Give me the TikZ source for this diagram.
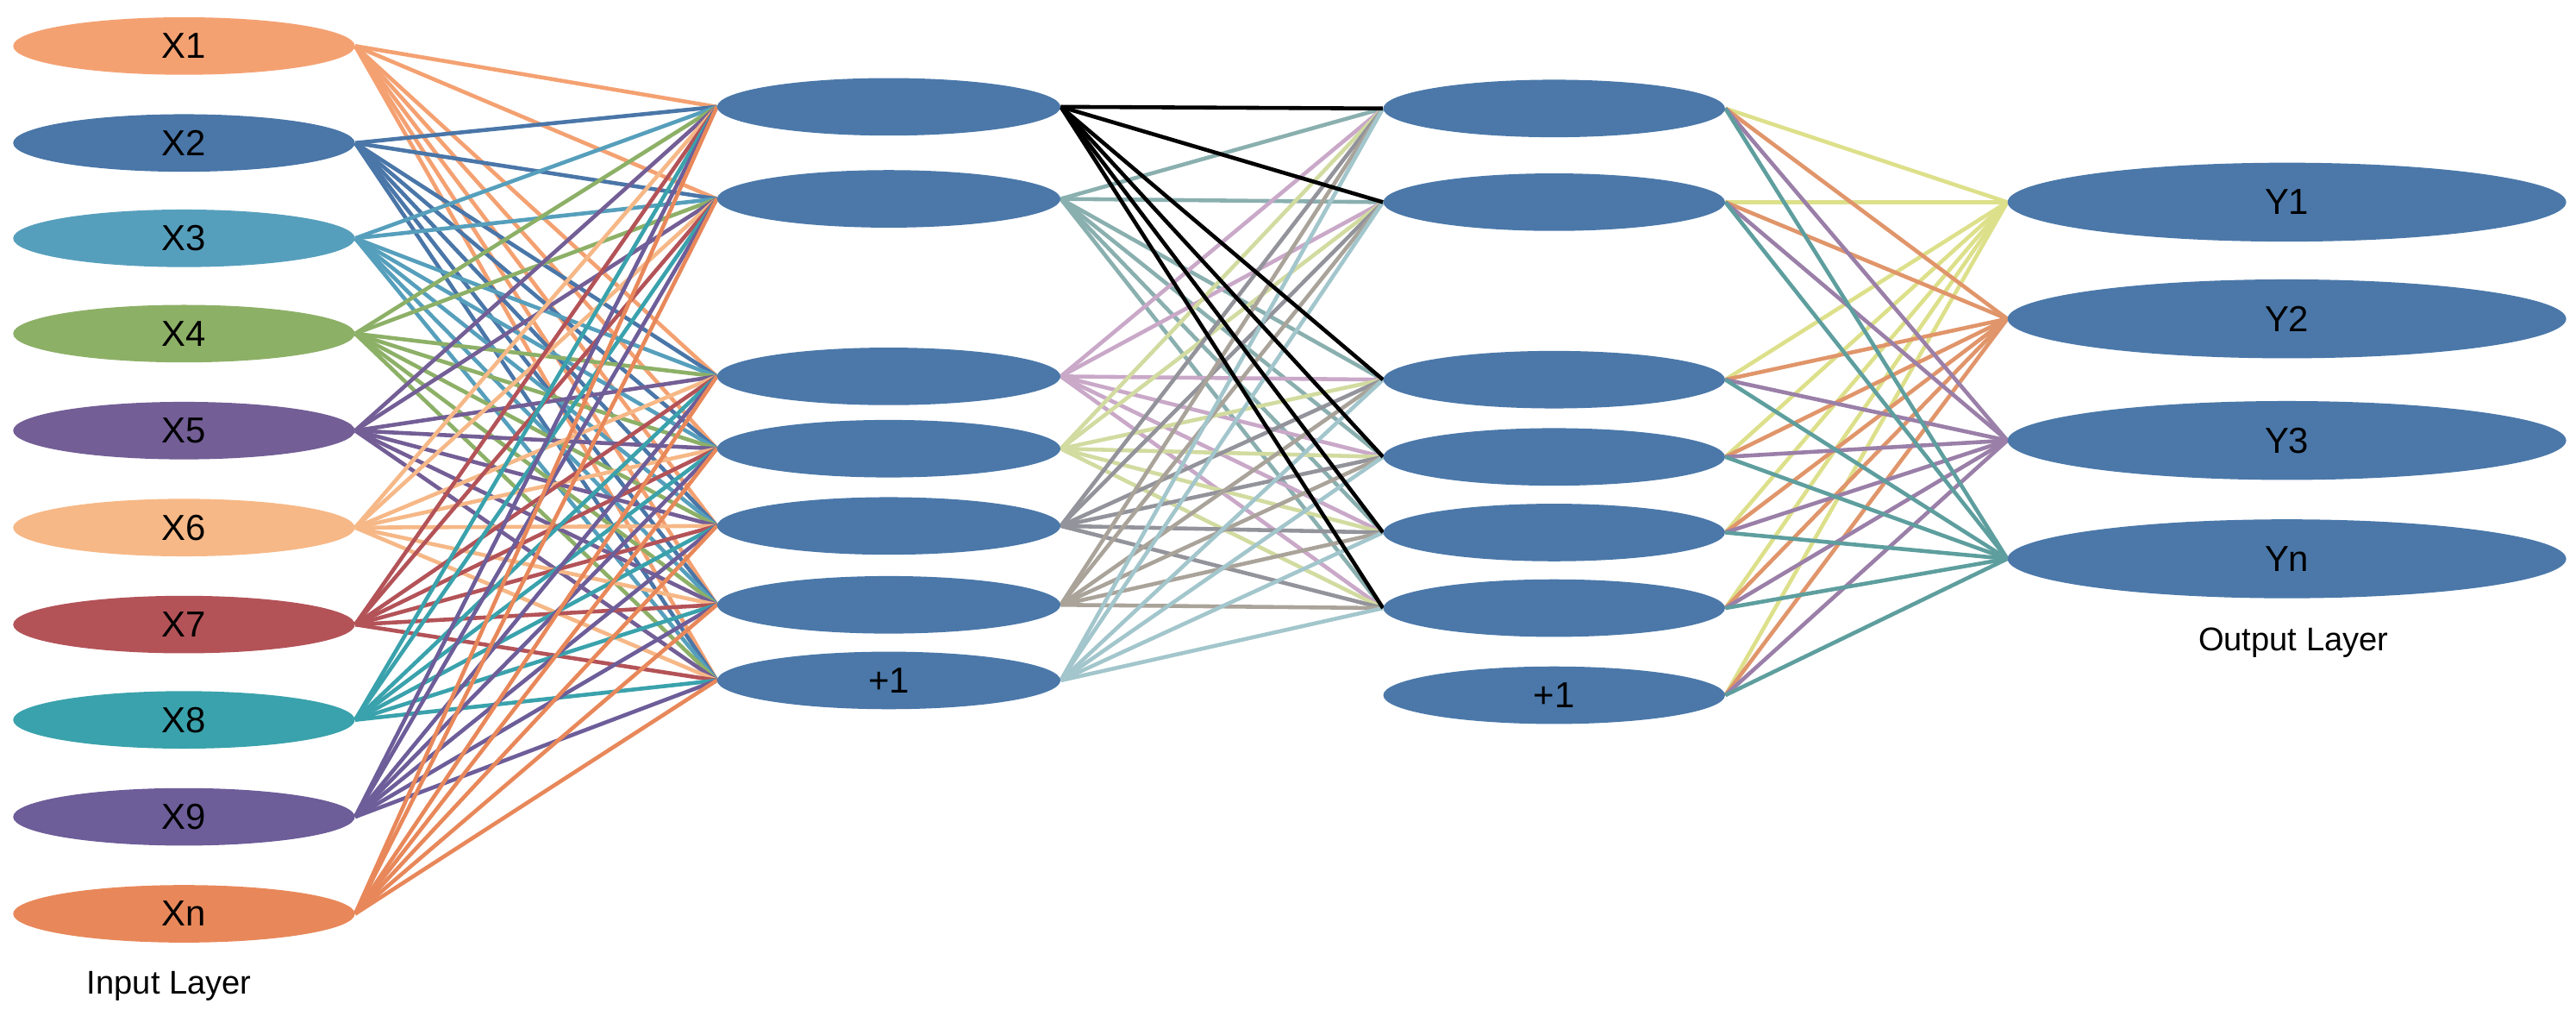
\documentclass[tikz,border=0pt]{standalone}
\usepackage{fontspec}
\setmainfont{Liberation Sans}
\usetikzlibrary{shapes.geometric,backgrounds}
\definecolor{nodeblue}{HTML}{4B78A9}
\definecolor{cA}{HTML}{F4A172}\definecolor{cB}{HTML}{4A76A8}
\definecolor{cC}{HTML}{569FBC}\definecolor{cD}{HTML}{8DB067}
\definecolor{cE}{HTML}{735E96}\definecolor{cF}{HTML}{F6B887}
\definecolor{cG}{HTML}{B35358}\definecolor{cH}{HTML}{3AA2AC}
\definecolor{cI}{HTML}{6D5D99}\definecolor{cJ}{HTML}{E8885A}
\definecolor{hA}{HTML}{000000}\definecolor{hB}{HTML}{8AAFAF}
\definecolor{hC}{HTML}{C9A8C8}\definecolor{hD}{HTML}{D2DBA0}
\definecolor{hE}{HTML}{93939B}\definecolor{hF}{HTML}{A9A39A}
\definecolor{hG}{HTML}{A2C6CC}
\definecolor{oA}{HTML}{DDE08A}\definecolor{oB}{HTML}{E0956A}
\definecolor{oC}{HTML}{9A7FA8}\definecolor{oD}{HTML}{5E9E9E}
\tikzset{
	neuron/.style={ellipse,fill=#1,draw=none,minimum width=208pt,minimum height=35pt,inner sep=0pt,font=\fontsize{22}{22}\selectfont},
	outneuron/.style={ellipse,fill=nodeblue,minimum width=340pt,minimum height=48pt,inner sep=0pt,font=\fontsize{22}{22}\selectfont},
	link/.style={line width=2.4pt,draw=#1}
}
\begin{document}
\begin{tikzpicture}[x=1pt,y=-1pt]
	\useasboundingbox (0,0) rectangle (1568,618);
	% input layer
	\foreach \i/\lab/\col/\y in {1/X1/cA/28,2/X2/cB/87,3/X3/cC/145,4/X4/cD/203,5/X5/cE/262,6/X6/cF/321,7/X7/cG/380,8/X8/cH/438,9/X9/cI/497,10/Xn/cJ/556}
		\node [neuron=\col] (in\i) at (112,\y) {\lab};
	\node [font=\fontsize{20}{20}\selectfont] (inlabel) at (103,600) {Input Layer};
	% hidden layers
	\foreach \i/\lab/\y in {1//65,2//121,3//229,4//273,5//320,6//368,7/+1/414}
		\node [neuron=nodeblue,minimum width=209pt] (ha\i) at (541,\y) {\lab};
	\foreach \i/\lab/\y in {1//66,2//123,3//231,4//278,5//324,6//370,7/+1/423}
		\node [neuron=nodeblue] (hb\i) at (946,\y) {\lab};
	% output layer
	\foreach \i/\lab/\y in {1/Y1/123,2/Y2/194,3/Y3/268,4/Yn/340}
		\node [outneuron] (out\i) at (1392,\y) {\lab};
	\node [font=\fontsize{20}{20}\selectfont] (outlabel) at (1396,391) {Output Layer};
	% connections
	\begin{scope}[on background layer]
		\foreach \i/\col in {1/cA,2/cB,3/cC,4/cD,5/cE,6/cF,7/cG,8/cH,9/cI,10/cJ}
			\foreach \j in {1,...,7}
				\draw [link=\col] (in\i.east) -- (ha\j.west);
		\foreach \i/\col in {2/hB,3/hC,4/hD,5/hE,6/hF,7/hG,1/hA}
			\foreach \j in {1,...,6}
				\draw [link=\col] (ha\i.east) -- (hb\j.west);
		\foreach \j/\col in {1/oA,2/oB,3/oC,4/oD}
			\foreach \i in {1,...,7}
				\draw [link=\col] (hb\i.east) -- (out\j.west);
	\end{scope}
\end{tikzpicture}
\end{document}
